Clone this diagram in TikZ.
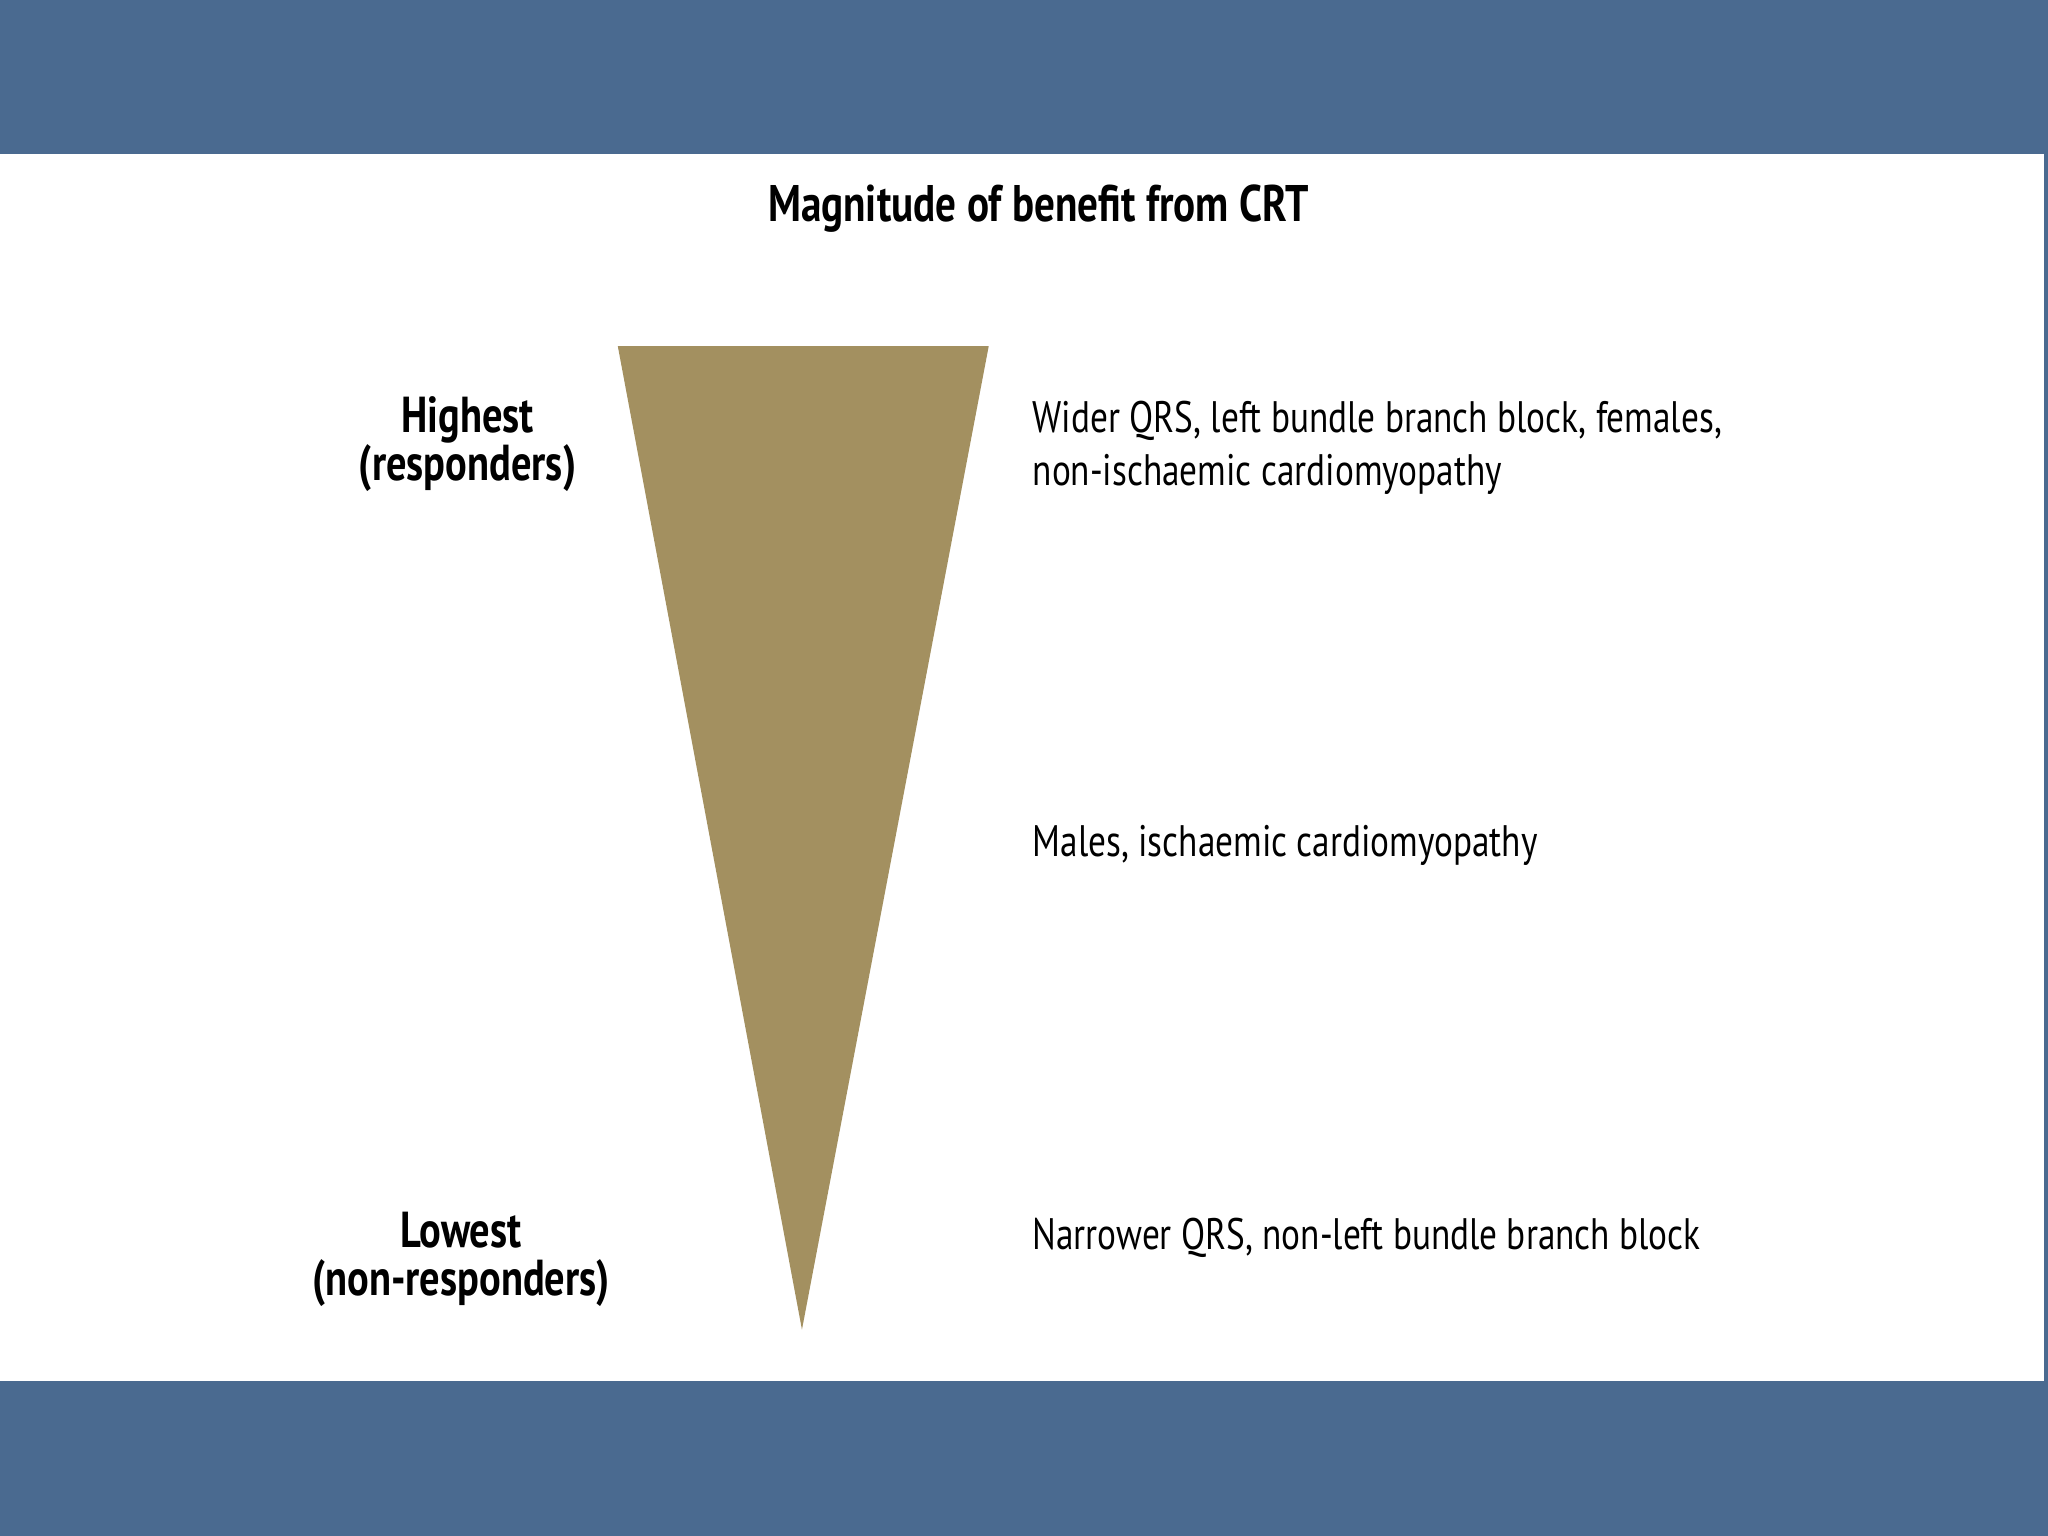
\documentclass[tikz,border=0pt]{standalone}
\usepackage{fontspec}
\setmainfont{PT Sans}[FakeStretch=0.8]
\usetikzlibrary{positioning}
\definecolor{bandblue}{HTML}{4A6A90}
\definecolor{wedgegold}{HTML}{A39060}
\tikzset{lbl/.style={inner sep=0pt, font=\fontsize{9.6}{11.5}\selectfont},
  side/.style={lbl, align=center, font=\fontsize{11}{10.5}\selectfont\bfseries}}
\begin{document}
\begin{tikzpicture}[x=0.01cm, y=-0.01cm]

\useasboundingbox (0,0) rectangle (1568,1176);
\fill[bandblue] (0,0) rectangle (1568,118);
\fill[bandblue] (0,1057) rectangle (1568,1176);
\fill[bandblue] (1565,118) rectangle (1568,1057);

\node[lbl, font=\fontsize{11.2}{13}\selectfont\bfseries] at (795,160) (title) {Magnitude of benefit from CRT};

\coordinate (tl) at (473,265);
\coordinate (tr) at (757,265);
\coordinate (tip) at (614,1018);
\fill[wedgegold] (tl) -- (tr) -- (tip) -- cycle;

\node[side] at (358,340) (high) {Highest\\(responders)};
\node[side] at (353,964) (low) {Lowest\\(non-responders)};

\node[lbl, anchor=west, align=left] at (790,343) (wide) {Wider QRS, left bundle branch block, females,\\non-ischaemic cardiomyopathy};
\node[lbl, anchor=west] at (790,647) (males) {Males, ischaemic cardiomyopathy};
\node[lbl, anchor=west] at (790,948) (narrow) {Narrower QRS, non-left bundle branch block};

\end{tikzpicture}
\end{document}
